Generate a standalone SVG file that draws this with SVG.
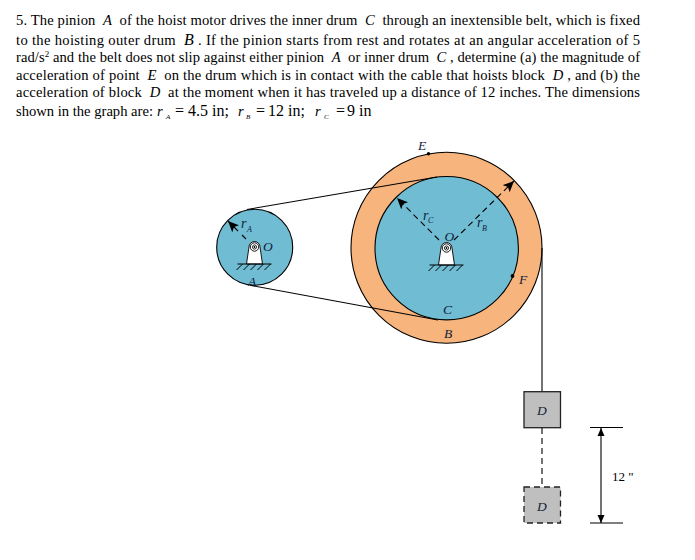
<svg xmlns="http://www.w3.org/2000/svg" width="695" height="560" viewBox="0 0 695 560">
<style>
text{font-family:"Liberation Serif","Times New Roman",serif;fill:#000}
.t{font-size:14.6px}
.i{font-style:italic}
.l{font-style:italic;font-size:13.500px;fill:#10233a}
.r{font-style:italic;font-size:14px;fill:#10233a}
.s{font-style:italic;font-size:8px;fill:#10233a}
.ln{stroke:#000;stroke-width:1.1;fill:none}
.d{stroke:#000;stroke-width:1.1;fill:none;stroke-dasharray:6 4}
.bl{fill:#6fbcd3;stroke:#000;stroke-width:1.1}
.hatch{stroke:#000;stroke-width:1;fill:none}
.sup{fill:#fff;stroke:#000;stroke-width:.9}
.blk{fill:#bfbfbf;stroke:#222;stroke-width:1.3}
</style>
<defs>
<marker id="ah" markerWidth="13" markerHeight="10" refX="11" refY="5" orient="auto" markerUnits="userSpaceOnUse"><path d="M0 0L11 5L0 10L2.500 5Z" fill="#000"/></marker>
<g id="sup"><path class="sup" d="M-8 24L-5.500 7A5.500 5.500 0 0 1 5.500 7L8 24Z"/><circle class="sup" cx="0" cy="7" r="4.200"/><circle cx="0" cy="7" r="2.100" fill="#fff" stroke="#000" stroke-width=".8"/><circle cx="0" cy="7" r=".9" fill="#000"/><path class="hatch" stroke-width="1.200" d="M-17 24H17M-12 24L-18 30M-5 24L-11 30M2 24L-4 30M9 24L3 30M16 24L10 30"/></g>
</defs>

<g id="problem-text" class="t">
<text x="16" y="25" textLength="624" lengthAdjust="spacing">5. The pinion &#160;<tspan class="i">A</tspan>&#160; of the hoist motor drives the inner drum &#160;<tspan class="i">C</tspan>&#160; through an inextensible belt, which is fixed</text>
<text x="16" y="45" textLength="624" lengthAdjust="spacing">to the hoisting outer drum &#160;<tspan class="i" font-size="16">B</tspan>&#160;. If the pinion starts from rest and rotates at an angular acceleration of 5</text>
<text x="16" y="62" textLength="624" lengthAdjust="spacing">rad/s<tspan font-size="9" dy="-5">2</tspan><tspan dy="5"> and the belt does not slip against either pinion &#160;</tspan><tspan class="i">A</tspan>&#160; or inner drum &#160;<tspan class="i">C</tspan>&#160;, determine (a) the magnitude of</text>
<text x="16" y="80" textLength="624" lengthAdjust="spacing">acceleration of point &#160;<tspan class="i">E</tspan>&#160; on the drum which is in contact with the cable that hoists block &#160;<tspan class="i">D</tspan>&#160;, and (b) the</text>
<text x="16" y="97" textLength="624" lengthAdjust="spacing">acceleration of block &#160;<tspan class="i">D</tspan>&#160; at the moment when it has traveled up a distance of 12 inches. The dimensions</text>
<text x="16" y="116">shown in the graph are:</text>
<text x="157" y="116" class="i">r</text><text x="166" y="119" class="i" font-size="7">A</text><text x="175" y="116" font-size="16">=</text><text x="188" y="116" font-size="16">4.5 in;</text>
<text x="238" y="116" class="i">r</text><text x="246" y="119" class="i" font-size="7">B</text><text x="256" y="116" font-size="16">=</text><text x="268" y="116" font-size="16">12 in;</text>
<text x="315" y="116" class="i">r</text><text x="324" y="119" class="i" font-size="7">C</text><text x="336" y="116" font-size="16">=</text><text x="347" y="116" font-size="16">9 in</text>
</g>

<g id="drum-B"><circle cx="446.500" cy="247.800" r="95.500" fill="#f7b47c" stroke="#000" stroke-width="1.100"/></g>
<g id="drum-C"><circle class="bl" cx="446.700" cy="248.200" r="71.700"/></g>
<g id="pinion-A"><circle class="bl" cx="254.700" cy="247.300" r="38"/>
<use href="#sup" x="254.500" y="240"/>
<text class="l" x="263" y="251">O</text><text class="l" x="248" y="286">A</text>
<text class="r" x="241" y="228">r</text><text class="s" x="247" y="232">A</text></g>
<g id="support-O"><use href="#sup" x="446.500" y="241"/></g>

<g id="connectors">
<path class="ln" d="M247 209.500L437 177M250 285.300L438 320"/>
<path class="ln" d="M542 248V391.500"/>
<path class="d" d="M439 240L397 198" marker-end="url(#ah)"/>
<path class="d" d="M454 240L514 181" marker-end="url(#ah)"/>
<path class="ln" d="M246 239L242 235M238 231L228 221" marker-end="url(#ah)"/>
<path class="d" d="M542 428V487"/>
<path class="ln" d="M590 427.500H623M590 523H623"/>
<path class="ln" d="M601 428V523"/>
<path d="M601 428L597.500 436H604.500Z M601 523L597.500 515H604.500Z" fill="#000"/>
</g>

<g id="labels">
<text class="l" x="418" y="150">E</text><circle cx="428.500" cy="153.700" r="1.700" fill="#000"/>
<text class="l" x="519" y="284">F</text><circle cx="512.500" cy="276" r="1.900" fill="#000"/>
<text class="l" x="443" y="314">C</text><text class="l" x="444" y="338">B</text>
<text class="l" x="444.500" y="241">O</text>
<text class="r" x="423" y="220">r</text><text class="s" x="428" y="223">C</text>
<text class="r" x="477" y="227">r</text><text class="s" x="482" y="231">B</text>
</g>

<g id="block-D"><rect class="blk" x="524" y="391.700" width="36.500" height="36"/><text class="l" x="537" y="415">D</text></g>
<g id="block-D-moved"><rect class="blk" x="524" y="487" width="36.500" height="36" stroke-dasharray="6 4"/><text class="l" x="537" y="511">D</text></g>
<g id="dimension"><text font-size="13" x="612" y="481">12 "</text></g>
</svg>
